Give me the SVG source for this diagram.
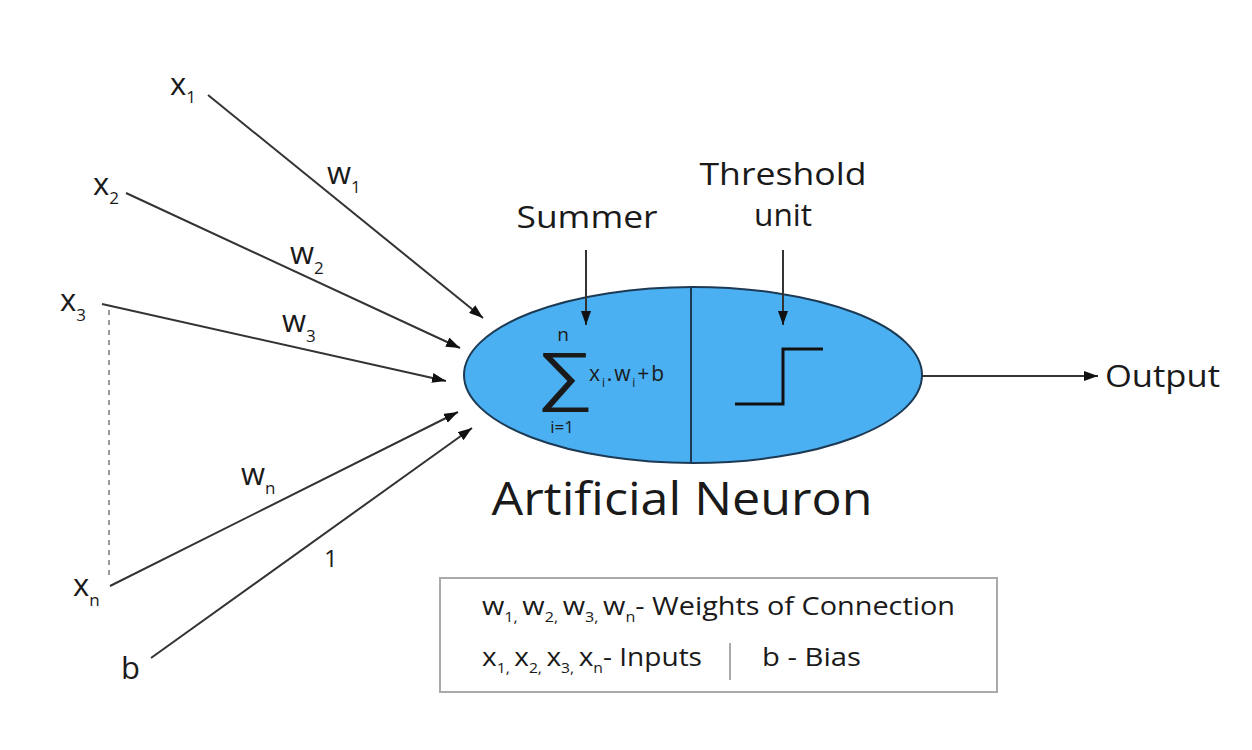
<svg xmlns="http://www.w3.org/2000/svg" width="1252" height="750" viewBox="0 0 1252 750">
<defs>
<marker id="arr" viewBox="0 0 14 10" refX="14" refY="5" markerWidth="14" markerHeight="10" markerUnits="userSpaceOnUse" orient="auto">
<path d="M0,0 L14,5 L0,10 Z" fill="#111"/>
</marker>
</defs>
<style>
text{font-family:"Open Sans",Lato,"Liberation Sans",sans-serif;fill:#1a1a1a}
.lbl{font-size:31px}
.sub{font-size:17px}
.conn{stroke:#333;stroke-width:2;fill:none;marker-end:url(#arr)}
.leg{font-size:25px}
.ls{font-size:14px}
</style>
<rect width="1252" height="750" fill="#fff"/>
<g id="neuron">
<ellipse cx="693" cy="375" rx="229" ry="88" fill="#4AB0F2" stroke="#1d3a55" stroke-width="2"/>
<line x1="691" y1="287" x2="691" y2="463" stroke="#1d3a55" stroke-width="2"/>
<text transform="translate(565 397) scale(1.3 1)" x="0" y="0" font-size="62" text-anchor="middle" font-family="'Liberation Sans','DejaVu Sans',sans-serif">∑</text>
<text x="563" y="341" font-size="19" text-anchor="middle">n</text>
<text x="562" y="433" font-size="17" text-anchor="middle">i=1</text>
<text x="589" y="381" font-size="21" textLength="75">x<tspan font-size="12" dy="6">i</tspan><tspan dy="-6">.w</tspan><tspan font-size="12" dy="6">i</tspan><tspan dy="-6">+b</tspan></text>
<path d="M735,404 H783 V349 H823" fill="none" stroke="#111" stroke-width="3"/>
<text x="682" y="515" font-size="45" text-anchor="middle" textLength="381" lengthAdjust="spacingAndGlyphs">Artificial Neuron</text>
</g>
<g id="connectors">
<line class="conn" x1="208" y1="95" x2="483" y2="318"/>
<line class="conn" x1="126" y1="193" x2="460" y2="348"/>
<line class="conn" x1="102" y1="304" x2="446" y2="381"/>
<line class="conn" x1="110" y1="586" x2="458" y2="412"/>
<line class="conn" x1="151" y1="658" x2="472" y2="428"/>
<line class="conn" x1="586" y1="250" x2="586" y2="325"/>
<line class="conn" x1="783" y1="250" x2="783" y2="325"/>
<line class="conn" x1="922" y1="376" x2="1098" y2="376"/>
<line x1="109" y1="310" x2="109" y2="576" stroke="#999" stroke-width="2" stroke-dasharray="5,5"/>
</g>
<g id="summer"><text x="587" y="228" font-size="31" text-anchor="middle" textLength="141" lengthAdjust="spacingAndGlyphs">Summer</text></g>
<g id="threshold"><text x="783" y="185" font-size="31" text-anchor="middle" textLength="167" lengthAdjust="spacingAndGlyphs">Threshold</text><text x="783" y="226" font-size="31" text-anchor="middle" textLength="58" lengthAdjust="spacingAndGlyphs">unit</text></g>
<g id="output"><text x="1105" y="387" font-size="31" textLength="115" lengthAdjust="spacingAndGlyphs">Output</text></g>
<g id="x1"><text class="lbl" x="170" y="95">x<tspan class="sub" dy="8">1</tspan></text></g>
<g id="x2"><text class="lbl" x="93" y="195">x<tspan class="sub" dy="9">2</tspan></text></g>
<g id="x3"><text class="lbl" x="60" y="311">x<tspan class="sub" dy="10">3</tspan></text></g>
<g id="xn"><text class="lbl" x="73" y="596">x<tspan class="sub" dy="10">n</tspan></text></g>
<g id="b"><text class="lbl" x="121" y="679">b</text></g>
<g id="w1"><text class="lbl" x="327" y="184">w<tspan class="sub" dy="9">1</tspan></text></g>
<g id="w2"><text class="lbl" x="290" y="264">w<tspan class="sub" dy="10">2</tspan></text></g>
<g id="w3"><text class="lbl" x="282" y="332">w<tspan class="sub" dy="10">3</tspan></text></g>
<g id="wn"><text class="lbl" x="241" y="485">w<tspan class="sub" dy="9">n</tspan></text></g>
<g id="one"><text font-size="24" x="324" y="567">1</text></g>
<g id="legend">
<rect x="440" y="578" width="557" height="114" fill="#fff" stroke="#aaa" stroke-width="2"/>
<text class="leg" x="482" y="615" textLength="473" lengthAdjust="spacingAndGlyphs">w<tspan class="ls" dy="7">1,</tspan><tspan dx="4" dy="-7">w</tspan><tspan class="ls" dy="7">2,</tspan><tspan dx="4" dy="-7">w</tspan><tspan class="ls" dy="7">3,</tspan><tspan dx="4" dy="-7">w</tspan><tspan class="ls" dy="7">n</tspan><tspan dy="-7">- Weights of Connection</tspan></text>
<text class="leg" x="482" y="666" textLength="220" lengthAdjust="spacingAndGlyphs">x<tspan class="ls" dy="7">1,</tspan><tspan dx="4" dy="-7">x</tspan><tspan class="ls" dy="7">2,</tspan><tspan dx="4" dy="-7">x</tspan><tspan class="ls" dy="7">3,</tspan><tspan dx="4" dy="-7">x</tspan><tspan class="ls" dy="7">n</tspan><tspan dy="-7">- Inputs</tspan></text>
<line x1="730" y1="643" x2="730" y2="680" stroke="#aaa" stroke-width="2"/>
<text class="leg" x="762" y="666" textLength="99" lengthAdjust="spacingAndGlyphs">b - Bias</text>
</g>
</svg>
